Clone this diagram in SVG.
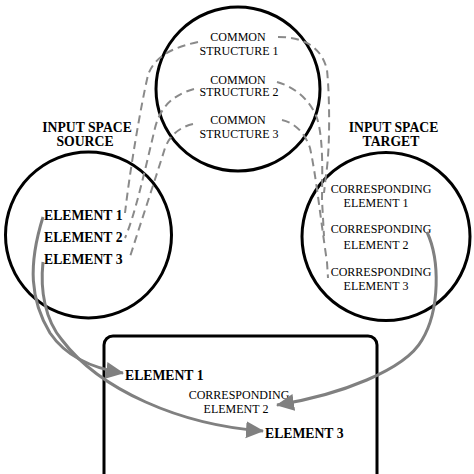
<svg xmlns="http://www.w3.org/2000/svg" width="474" height="474" viewBox="0 0 474 474">
<style>
.ring{fill:none;stroke:#000;stroke-width:3}
.dash{fill:none;stroke:#8a8a8a;stroke-width:2;stroke-dasharray:8 5}
.arr{fill:none;stroke:#808080;stroke-width:3}
.t{font-family:"Liberation Serif","Times New Roman",serif;font-size:12px;fill:#000}
.b{font-family:"Liberation Serif","Times New Roman",serif;font-size:13.7px;font-weight:bold;fill:#000}
.m{text-anchor:middle}
</style>
<defs>
<marker id="ah" markerUnits="userSpaceOnUse" markerWidth="20" markerHeight="20" refX="17" refY="8.5" orient="auto">
<path d="M0,0 L18,8.5 L0,17 Z" fill="#808080"/>
</marker>
</defs>
<rect width="474" height="474" fill="#fff"/>
<g id="common">
<circle class="ring" cx="238" cy="89" r="82"/>
<text class="t m" x="238" y="41">COMMON</text>
<text class="t m" x="239" y="55">STRUCTURE 1</text>
<text class="t m" x="238" y="83.5">COMMON</text>
<text class="t m" x="239" y="96">STRUCTURE 2</text>
<text class="t m" x="238" y="123.5">COMMON</text>
<text class="t m" x="239" y="137.5">STRUCTURE 3</text>
</g>
<g id="source">
<circle class="ring" cx="88.5" cy="235" r="83"/>
<text class="b m" x="87" y="132">INPUT SPACE</text>
<text class="b m" x="85" y="146">SOURCE</text>
<text class="b" x="44" y="220">ELEMENT 1</text>
<text class="b" x="44" y="242">ELEMENT 2</text>
<text class="b" x="44" y="264">ELEMENT 3</text>
</g>
<g id="target">
<circle class="ring" cx="386" cy="236.5" r="84"/>
<text class="b m" x="393.5" y="132">INPUT SPACE</text>
<text class="b m" x="391" y="146">TARGET</text>
<text class="t m" x="381" y="193">CORRESPONDING</text>
<text class="t m" x="376" y="207">ELEMENT 1</text>
<text class="t m" x="381" y="233">CORRESPONDING</text>
<text class="t m" x="376" y="249">ELEMENT 2</text>
<text class="t m" x="381" y="276">CORRESPONDING</text>
<text class="t m" x="376" y="290">ELEMENT 3</text>
</g>
<g id="blend">
<rect class="ring" x="104" y="336" width="273" height="150" rx="9"/>
<text class="b" x="125" y="380">ELEMENT 1</text>
<text class="t m" x="239" y="399">CORRESPONDING</text>
<text class="t m" x="236" y="412.5">ELEMENT 2</text>
<text class="b" x="265" y="438">ELEMENT 3</text>
</g>
<g id="connectors">
<path class="dash" d="M198,42 C175,47 155,55 148,75 C140,110 130,170 125,213"/>
<path class="dash" d="M194,89 C172,95 160,108 155,128 C145,170 135,215 125,238"/>
<path class="dash" d="M193,124 C180,127 170,135 165,148 C155,180 140,225 129,260"/>
<path class="dash" d="M278,37 C305,37 322,48 327,70 C330,100 330,150 326,175 L324,193"/>
<path class="dash" d="M277,82 C295,87 310,100 317,118 C324,140 322,180 322,200 L324,236"/>
<path class="dash" d="M282,120 C295,123 305,133 310,148 C316,175 320,215 327,262 L328,278"/>
<path class="arr" marker-end="url(#ah)" d="M43,217 C28,265 30,300 50,333 C65,355 90,368 123,373"/>
<path class="arr" marker-end="url(#ah)" d="M43,262 C40,290 45,320 62,340 C100,390 180,425 263,431"/>
<path class="arr" marker-end="url(#ah)" d="M427,232 C440,260 440,310 422,340 C405,370 340,395 277,405"/>
</g>
</svg>
